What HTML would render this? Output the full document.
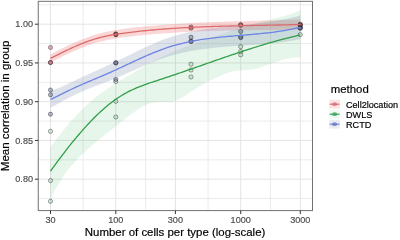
<!DOCTYPE html>
<html><head><meta charset="utf-8"><style>
html,body{margin:0;padding:0;background:#fff;width:400px;height:240px;overflow:hidden}
svg{display:block}
text{font-family:"Liberation Sans",Arial,sans-serif;stroke-width:0.18px;paint-order:stroke}
.tk{stroke:#4D4D4D} .ti,.lt,.ll{stroke:#000}
.tk{font-size:9.1px;fill:#4D4D4D}
.ti{font-size:11.4px;fill:#000}
.lt{font-size:11.4px;fill:#000}
.ll{font-size:9.1px;fill:#000}
svg{filter:blur(0.45px)}
</style></head><body>
<svg width="400" height="240" viewBox="0 0 400 240">
<rect x="0" y="0" width="400" height="240" fill="#fff"/>
<line x1="38.25" x2="312.5" y1="4.83" y2="4.83" stroke="#E6E6E6" stroke-width="0.8"/>
<line x1="38.25" x2="312.5" y1="43.58" y2="43.58" stroke="#E6E6E6" stroke-width="0.8"/>
<line x1="38.25" x2="312.5" y1="82.32" y2="82.32" stroke="#E6E6E6" stroke-width="0.8"/>
<line x1="38.25" x2="312.5" y1="121.08" y2="121.08" stroke="#E6E6E6" stroke-width="0.8"/>
<line x1="38.25" x2="312.5" y1="159.83" y2="159.83" stroke="#E6E6E6" stroke-width="0.8"/>
<line x1="38.25" x2="312.5" y1="198.57" y2="198.57" stroke="#E6E6E6" stroke-width="0.8"/>
<line y1="1.3" y2="210.6" x1="83.15" x2="83.15" stroke="#E6E6E6" stroke-width="0.8"/>
<line y1="1.3" y2="210.6" x1="145.60" x2="145.60" stroke="#E6E6E6" stroke-width="0.8"/>
<line y1="1.3" y2="210.6" x1="208.05" x2="208.05" stroke="#E6E6E6" stroke-width="0.8"/>
<line y1="1.3" y2="210.6" x1="270.50" x2="270.50" stroke="#E6E6E6" stroke-width="0.8"/>
<line x1="38.25" x2="312.5" y1="24.20" y2="24.20" stroke="#E4E4E4" stroke-width="1"/>
<line x1="38.25" x2="312.5" y1="62.95" y2="62.95" stroke="#E4E4E4" stroke-width="1"/>
<line x1="38.25" x2="312.5" y1="101.70" y2="101.70" stroke="#E4E4E4" stroke-width="1"/>
<line x1="38.25" x2="312.5" y1="140.45" y2="140.45" stroke="#E4E4E4" stroke-width="1"/>
<line x1="38.25" x2="312.5" y1="179.20" y2="179.20" stroke="#E4E4E4" stroke-width="1"/>
<line y1="1.3" y2="210.6" x1="50.50" x2="50.50" stroke="#E4E4E4" stroke-width="1"/>
<line y1="1.3" y2="210.6" x1="115.81" x2="115.81" stroke="#E4E4E4" stroke-width="1"/>
<line y1="1.3" y2="210.6" x1="175.40" x2="175.40" stroke="#E4E4E4" stroke-width="1"/>
<line y1="1.3" y2="210.6" x1="240.71" x2="240.71" stroke="#E4E4E4" stroke-width="1"/>
<line y1="1.3" y2="210.6" x1="300.30" x2="300.30" stroke="#E4E4E4" stroke-width="1"/>
<path d="M50.50,54.44 L52.50,53.38 L54.50,52.33 L56.50,51.29 L58.49,50.26 L60.49,49.24 L62.49,48.24 L64.49,47.25 L66.49,46.28 L68.49,45.32 L70.48,44.38 L72.48,43.46 L74.48,42.56 L76.48,41.69 L78.48,40.83 L80.48,40.00 L82.47,39.20 L84.47,38.42 L86.47,37.67 L88.47,36.94 L90.47,36.25 L92.47,35.59 L94.46,34.96 L96.46,34.37 L98.46,33.80 L100.46,33.27 L102.46,32.77 L104.46,32.30 L106.46,31.86 L108.45,31.44 L110.45,31.05 L112.45,30.68 L114.45,30.33 L116.45,30.00 L118.45,29.69 L120.44,29.39 L122.44,29.10 L124.44,28.83 L126.44,28.57 L128.44,28.32 L130.44,28.07 L132.43,27.83 L134.43,27.60 L136.43,27.37 L138.43,27.15 L140.43,26.93 L142.43,26.72 L144.42,26.52 L146.42,26.32 L148.42,26.12 L150.42,25.93 L152.42,25.75 L154.42,25.57 L156.42,25.39 L158.41,25.22 L160.41,25.06 L162.41,24.90 L164.41,24.74 L166.41,24.59 L168.41,24.44 L170.40,24.30 L172.40,24.16 L174.40,24.02 L176.40,23.89 L178.40,23.76 L180.40,23.64 L182.39,23.52 L184.39,23.40 L186.39,23.29 L188.39,23.18 L190.39,23.07 L192.39,22.97 L194.38,22.87 L196.38,22.77 L198.38,22.67 L200.38,22.58 L202.38,22.49 L204.38,22.41 L206.38,22.32 L208.37,22.24 L210.37,22.16 L212.37,22.08 L214.37,22.01 L216.37,21.94 L218.37,21.86 L220.36,21.80 L222.36,21.73 L224.36,21.66 L226.36,21.60 L228.36,21.53 L230.36,21.47 L232.35,21.41 L234.35,21.35 L236.35,21.30 L238.35,21.24 L240.35,21.18 L242.35,21.13 L244.34,21.07 L246.34,21.02 L248.34,20.97 L250.34,20.91 L252.34,20.86 L254.34,20.81 L256.34,20.76 L258.33,20.70 L260.33,20.65 L262.33,20.60 L264.33,20.55 L266.33,20.50 L268.33,20.44 L270.32,20.39 L272.32,20.33 L274.32,20.28 L276.32,20.22 L278.32,20.17 L280.32,20.11 L282.31,20.05 L284.31,19.99 L286.31,19.93 L288.31,19.87 L290.31,19.81 L292.31,19.74 L294.30,19.67 L296.30,19.60 L298.30,19.53 L300.30,19.46 L300.30,29.60 L298.30,29.63 L296.30,29.66 L294.30,29.68 L292.31,29.71 L290.31,29.73 L288.31,29.75 L286.31,29.78 L284.31,29.80 L282.31,29.82 L280.32,29.84 L278.32,29.86 L276.32,29.88 L274.32,29.90 L272.32,29.92 L270.32,29.94 L268.33,29.96 L266.33,29.98 L264.33,30.01 L262.33,30.03 L260.33,30.05 L258.33,30.07 L256.34,30.10 L254.34,30.12 L252.34,30.14 L250.34,30.17 L248.34,30.20 L246.34,30.22 L244.34,30.25 L242.35,30.28 L240.35,30.31 L238.35,30.35 L236.35,30.38 L234.35,30.42 L232.35,30.45 L230.36,30.49 L228.36,30.53 L226.36,30.58 L224.36,30.62 L222.36,30.67 L220.36,30.72 L218.37,30.77 L216.37,30.82 L214.37,30.88 L212.37,30.94 L210.37,31.00 L208.37,31.06 L206.38,31.13 L204.38,31.20 L202.38,31.27 L200.38,31.34 L198.38,31.42 L196.38,31.50 L194.38,31.59 L192.39,31.67 L190.39,31.77 L188.39,31.86 L186.39,31.96 L184.39,32.06 L182.39,32.17 L180.40,32.27 L178.40,32.39 L176.40,32.51 L174.40,32.63 L172.40,32.75 L170.40,32.88 L168.41,33.02 L166.41,33.15 L164.41,33.30 L162.41,33.44 L160.41,33.60 L158.41,33.75 L156.42,33.91 L154.42,34.08 L152.42,34.25 L150.42,34.43 L148.42,34.61 L146.42,34.80 L144.42,34.99 L142.43,35.19 L140.43,35.39 L138.43,35.60 L136.43,35.81 L134.43,36.03 L132.43,36.26 L130.44,36.49 L128.44,36.73 L126.44,36.98 L124.44,37.23 L122.44,37.50 L120.44,37.77 L118.45,38.07 L116.45,38.37 L114.45,38.70 L112.45,39.05 L110.45,39.41 L108.45,39.81 L106.46,40.22 L104.46,40.66 L102.46,41.13 L100.46,41.64 L98.46,42.17 L96.46,42.74 L94.46,43.34 L92.47,43.97 L90.47,44.64 L88.47,45.34 L86.47,46.07 L84.47,46.83 L82.47,47.62 L80.48,48.43 L78.48,49.26 L76.48,50.11 L74.48,50.98 L72.48,51.87 L70.48,52.78 L68.49,53.70 L66.49,54.64 L64.49,55.58 L62.49,56.54 L60.49,57.50 L58.49,58.47 L56.50,59.44 L54.50,60.42 L52.50,61.39 L50.50,62.37Z" fill="#F06060" fill-opacity="0.26"/>
<path d="M50.50,147.25 L52.50,144.48 L54.50,141.77 L56.50,139.10 L58.49,136.48 L60.49,133.92 L62.49,131.40 L64.49,128.94 L66.49,126.53 L68.49,124.17 L70.48,121.86 L72.48,119.60 L74.48,117.40 L76.48,115.25 L78.48,113.15 L80.48,111.11 L82.47,109.13 L84.47,107.19 L86.47,105.32 L88.47,103.49 L90.47,101.73 L92.47,100.02 L94.46,98.36 L96.46,96.75 L98.46,95.19 L100.46,93.67 L102.46,92.20 L104.46,90.76 L106.46,89.36 L108.45,88.00 L110.45,86.66 L112.45,85.35 L114.45,84.07 L116.45,82.81 L118.45,81.57 L120.44,80.35 L122.44,79.14 L124.44,77.94 L126.44,76.75 L128.44,75.56 L130.44,74.38 L132.43,73.20 L134.43,72.03 L136.43,70.85 L138.43,69.69 L140.43,68.53 L142.43,67.38 L144.42,66.24 L146.42,65.11 L148.42,63.99 L150.42,62.89 L152.42,61.81 L154.42,60.74 L156.42,59.70 L158.41,58.67 L160.41,57.67 L162.41,56.69 L164.41,55.74 L166.41,54.81 L168.41,53.90 L170.40,53.02 L172.40,52.16 L174.40,51.32 L176.40,50.49 L178.40,49.69 L180.40,48.89 L182.39,48.11 L184.39,47.35 L186.39,46.59 L188.39,45.85 L190.39,45.11 L192.39,44.38 L194.38,43.65 L196.38,42.93 L198.38,42.21 L200.38,41.49 L202.38,40.78 L204.38,40.07 L206.38,39.36 L208.37,38.65 L210.37,37.95 L212.37,37.25 L214.37,36.56 L216.37,35.87 L218.37,35.19 L220.36,34.50 L222.36,33.83 L224.36,33.16 L226.36,32.49 L228.36,31.83 L230.36,31.17 L232.35,30.52 L234.35,29.88 L236.35,29.24 L238.35,28.61 L240.35,27.98 L242.35,27.36 L244.34,26.75 L246.34,26.15 L248.34,25.55 L250.34,24.96 L252.34,24.38 L254.34,23.81 L256.34,23.24 L258.33,22.68 L260.33,22.13 L262.33,21.59 L264.33,21.06 L266.33,20.54 L268.33,20.03 L270.32,19.52 L272.32,19.03 L274.32,18.54 L276.32,18.05 L278.32,17.55 L280.32,17.04 L282.31,16.51 L284.31,15.96 L286.31,15.39 L288.31,14.78 L290.31,14.14 L292.31,13.46 L294.30,12.73 L296.30,11.94 L298.30,11.10 L300.30,10.20 L300.30,57.17 L298.30,57.22 L296.30,57.35 L294.30,57.55 L292.31,57.81 L290.31,58.13 L288.31,58.52 L286.31,58.96 L284.31,59.44 L282.31,59.98 L280.32,60.55 L278.32,61.16 L276.32,61.80 L274.32,62.47 L272.32,63.16 L270.32,63.88 L268.33,64.61 L266.33,65.35 L264.33,66.08 L262.33,66.80 L260.33,67.47 L258.33,68.09 L256.34,68.63 L254.34,69.07 L252.34,69.41 L250.34,69.67 L248.34,69.87 L246.34,70.02 L244.34,70.15 L242.35,70.27 L240.35,70.40 L238.35,70.57 L236.35,70.80 L234.35,71.09 L232.35,71.48 L230.36,71.99 L228.36,72.62 L226.36,73.36 L224.36,74.18 L222.36,75.07 L220.36,75.98 L218.37,76.89 L216.37,77.81 L214.37,78.73 L212.37,79.66 L210.37,80.61 L208.37,81.58 L206.38,82.57 L204.38,83.60 L202.38,84.66 L200.38,85.77 L198.38,86.92 L196.38,88.13 L194.38,89.40 L192.39,90.72 L190.39,92.09 L188.39,93.47 L186.39,94.83 L184.39,96.14 L182.39,97.37 L180.40,98.48 L178.40,99.45 L176.40,100.25 L174.40,100.84 L172.40,101.24 L170.40,101.49 L168.41,101.63 L166.41,101.69 L164.41,101.69 L162.41,101.69 L160.41,101.70 L158.41,101.78 L156.42,101.94 L154.42,102.23 L152.42,102.66 L150.42,103.23 L148.42,103.94 L146.42,104.76 L144.42,105.70 L142.43,106.74 L140.43,107.88 L138.43,109.10 L136.43,110.41 L134.43,111.78 L132.43,113.21 L130.44,114.70 L128.44,116.23 L126.44,117.79 L124.44,119.39 L122.44,121.00 L120.44,122.61 L118.45,124.23 L116.45,125.84 L114.45,127.44 L112.45,129.01 L110.45,130.58 L108.45,132.13 L106.46,133.69 L104.46,135.24 L102.46,136.81 L100.46,138.39 L98.46,139.99 L96.46,141.61 L94.46,143.26 L92.47,144.95 L90.47,146.68 L88.47,148.45 L86.47,150.27 L84.47,152.14 L82.47,154.07 L80.48,156.06 L78.48,158.11 L76.48,160.22 L74.48,162.40 L72.48,164.65 L70.48,166.97 L68.49,169.37 L66.49,171.85 L64.49,174.54 L62.49,177.54 L60.49,180.95 L58.49,184.46 L56.50,187.56 L54.50,190.24 L52.50,195.17 L50.50,205.92Z" fill="#20B040" fill-opacity="0.11"/>
<path d="M50.50,90.99 L52.50,90.33 L54.50,89.62 L56.50,88.86 L58.49,88.06 L60.49,87.22 L62.49,86.36 L64.49,85.46 L66.49,84.54 L68.49,83.61 L70.48,82.66 L72.48,81.71 L74.48,80.75 L76.48,79.80 L78.48,78.85 L80.48,77.92 L82.47,76.99 L84.47,76.08 L86.47,75.17 L88.47,74.27 L90.47,73.37 L92.47,72.47 L94.46,71.57 L96.46,70.68 L98.46,69.78 L100.46,68.87 L102.46,67.96 L104.46,67.05 L106.46,66.12 L108.45,65.18 L110.45,64.24 L112.45,63.28 L114.45,62.32 L116.45,61.35 L118.45,60.37 L120.44,59.39 L122.44,58.40 L124.44,57.42 L126.44,56.43 L128.44,55.44 L130.44,54.46 L132.43,53.48 L134.43,52.50 L136.43,51.53 L138.43,50.57 L140.43,49.61 L142.43,48.67 L144.42,47.73 L146.42,46.81 L148.42,45.90 L150.42,45.01 L152.42,44.14 L154.42,43.28 L156.42,42.44 L158.41,41.62 L160.41,40.82 L162.41,40.05 L164.41,39.30 L166.41,38.57 L168.41,37.88 L170.40,37.21 L172.40,36.56 L174.40,35.95 L176.40,35.35 L178.40,34.79 L180.40,34.24 L182.39,33.72 L184.39,33.23 L186.39,32.75 L188.39,32.29 L190.39,31.86 L192.39,31.44 L194.38,31.04 L196.38,30.66 L198.38,30.30 L200.38,29.95 L202.38,29.61 L204.38,29.29 L206.38,28.99 L208.37,28.70 L210.37,28.41 L212.37,28.14 L214.37,27.88 L216.37,27.63 L218.37,27.39 L220.36,27.16 L222.36,26.94 L224.36,26.72 L226.36,26.50 L228.36,26.29 L230.36,26.09 L232.35,25.89 L234.35,25.69 L236.35,25.49 L238.35,25.29 L240.35,25.10 L242.35,24.90 L244.34,24.70 L246.34,24.50 L248.34,24.30 L250.34,24.09 L252.34,23.88 L254.34,23.66 L256.34,23.44 L258.33,23.21 L260.33,22.97 L262.33,22.72 L264.33,22.47 L266.33,22.20 L268.33,21.92 L270.32,21.64 L272.32,21.33 L274.32,21.02 L276.32,20.69 L278.32,20.35 L280.32,19.99 L282.31,19.61 L284.31,19.22 L286.31,18.81 L288.31,18.38 L290.31,17.93 L292.31,17.46 L294.30,16.97 L296.30,16.46 L298.30,15.92 L300.30,15.37 L300.30,39.14 L298.30,39.55 L296.30,39.94 L294.30,40.30 L292.31,40.65 L290.31,40.99 L288.31,41.30 L286.31,41.60 L284.31,41.88 L282.31,42.15 L280.32,42.41 L278.32,42.65 L276.32,42.88 L274.32,43.10 L272.32,43.31 L270.32,43.50 L268.33,43.69 L266.33,43.87 L264.33,44.04 L262.33,44.20 L260.33,44.36 L258.33,44.51 L256.34,44.65 L254.34,44.79 L252.34,44.93 L250.34,45.06 L248.34,45.19 L246.34,45.32 L244.34,45.45 L242.35,45.58 L240.35,45.70 L238.35,45.83 L236.35,45.96 L234.35,46.10 L232.35,46.23 L230.36,46.37 L228.36,46.52 L226.36,46.67 L224.36,46.82 L222.36,46.99 L220.36,47.16 L218.37,47.34 L216.37,47.53 L214.37,47.72 L212.37,47.93 L210.37,48.15 L208.37,48.38 L206.38,48.63 L204.38,48.88 L202.38,49.15 L200.38,49.44 L198.38,49.74 L196.38,50.05 L194.38,50.39 L192.39,50.74 L190.39,51.11 L188.39,51.49 L186.39,51.90 L184.39,52.33 L182.39,52.78 L180.40,53.25 L178.40,53.74 L176.40,54.26 L174.40,54.80 L172.40,55.36 L170.40,55.95 L168.41,56.57 L166.41,57.21 L164.41,57.88 L162.41,58.57 L160.41,59.29 L158.41,60.02 L156.42,60.78 L154.42,61.56 L152.42,62.35 L150.42,63.16 L148.42,63.98 L146.42,64.81 L144.42,65.66 L142.43,66.52 L140.43,67.38 L138.43,68.25 L136.43,69.13 L134.43,70.01 L132.43,70.90 L130.44,71.78 L128.44,72.67 L126.44,73.55 L124.44,74.43 L122.44,75.31 L120.44,76.18 L118.45,77.04 L116.45,77.89 L114.45,78.74 L112.45,79.57 L110.45,80.39 L108.45,81.19 L106.46,81.98 L104.46,82.76 L102.46,83.52 L100.46,84.28 L98.46,85.03 L96.46,85.78 L94.46,86.54 L92.47,87.30 L90.47,88.06 L88.47,88.85 L86.47,89.64 L84.47,90.46 L82.47,91.29 L80.48,92.16 L78.48,93.05 L76.48,93.97 L74.48,94.92 L72.48,95.90 L70.48,96.91 L68.49,97.94 L66.49,99.00 L64.49,100.07 L62.49,101.16 L60.49,102.27 L58.49,103.39 L56.50,104.52 L54.50,105.67 L52.50,106.82 L50.50,107.97Z" fill="#7080A8" fill-opacity="0.23"/>
<circle cx="50.50" cy="47.50" r="2.1" fill="#C04858" fill-opacity="0.42" stroke="#000" stroke-opacity="0.42" stroke-width="0.85"/>
<circle cx="50.50" cy="62.50" r="2.1" fill="#C04858" fill-opacity="0.42" stroke="#000" stroke-opacity="0.42" stroke-width="0.85"/>
<circle cx="50.50" cy="62.50" r="2.1" fill="#C04858" fill-opacity="0.42" stroke="#000" stroke-opacity="0.42" stroke-width="0.85"/>
<circle cx="115.81" cy="33.80" r="2.1" fill="#C04858" fill-opacity="0.42" stroke="#000" stroke-opacity="0.42" stroke-width="0.85"/>
<circle cx="115.81" cy="34.60" r="2.1" fill="#C04858" fill-opacity="0.42" stroke="#000" stroke-opacity="0.42" stroke-width="0.85"/>
<circle cx="115.81" cy="34.60" r="2.1" fill="#C04858" fill-opacity="0.42" stroke="#000" stroke-opacity="0.42" stroke-width="0.85"/>
<circle cx="191.00" cy="27.00" r="2.1" fill="#C04858" fill-opacity="0.42" stroke="#000" stroke-opacity="0.42" stroke-width="0.85"/>
<circle cx="191.00" cy="28.20" r="2.1" fill="#C04858" fill-opacity="0.42" stroke="#000" stroke-opacity="0.42" stroke-width="0.85"/>
<circle cx="240.71" cy="24.60" r="2.1" fill="#C04858" fill-opacity="0.42" stroke="#000" stroke-opacity="0.42" stroke-width="0.85"/>
<circle cx="240.71" cy="25.40" r="2.1" fill="#C04858" fill-opacity="0.42" stroke="#000" stroke-opacity="0.42" stroke-width="0.85"/>
<circle cx="300.30" cy="24.20" r="2.1" fill="#C04858" fill-opacity="0.42" stroke="#000" stroke-opacity="0.42" stroke-width="0.85"/>
<circle cx="300.30" cy="24.80" r="2.1" fill="#C04858" fill-opacity="0.42" stroke="#000" stroke-opacity="0.42" stroke-width="0.85"/>
<circle cx="300.30" cy="25.30" r="2.1" fill="#C04858" fill-opacity="0.42" stroke="#000" stroke-opacity="0.42" stroke-width="0.85"/>
<circle cx="50.50" cy="131.30" r="2.1" fill="#A0D0B0" fill-opacity="0.42" stroke="#000" stroke-opacity="0.42" stroke-width="0.85"/>
<circle cx="50.50" cy="180.60" r="2.1" fill="#A0D0B0" fill-opacity="0.42" stroke="#000" stroke-opacity="0.42" stroke-width="0.85"/>
<circle cx="50.50" cy="201.30" r="2.1" fill="#A0D0B0" fill-opacity="0.42" stroke="#000" stroke-opacity="0.42" stroke-width="0.85"/>
<circle cx="115.81" cy="81.50" r="2.1" fill="#A0D0B0" fill-opacity="0.42" stroke="#000" stroke-opacity="0.42" stroke-width="0.85"/>
<circle cx="115.81" cy="101.30" r="2.1" fill="#A0D0B0" fill-opacity="0.42" stroke="#000" stroke-opacity="0.42" stroke-width="0.85"/>
<circle cx="115.81" cy="117.00" r="2.1" fill="#A0D0B0" fill-opacity="0.42" stroke="#000" stroke-opacity="0.42" stroke-width="0.85"/>
<circle cx="191.00" cy="64.20" r="2.1" fill="#A0D0B0" fill-opacity="0.42" stroke="#000" stroke-opacity="0.42" stroke-width="0.85"/>
<circle cx="191.00" cy="70.00" r="2.1" fill="#A0D0B0" fill-opacity="0.42" stroke="#000" stroke-opacity="0.42" stroke-width="0.85"/>
<circle cx="191.00" cy="77.00" r="2.1" fill="#A0D0B0" fill-opacity="0.42" stroke="#000" stroke-opacity="0.42" stroke-width="0.85"/>
<circle cx="240.71" cy="46.60" r="2.1" fill="#A0D0B0" fill-opacity="0.42" stroke="#000" stroke-opacity="0.42" stroke-width="0.85"/>
<circle cx="240.71" cy="51.50" r="2.1" fill="#A0D0B0" fill-opacity="0.42" stroke="#000" stroke-opacity="0.42" stroke-width="0.85"/>
<circle cx="240.71" cy="54.80" r="2.1" fill="#A0D0B0" fill-opacity="0.42" stroke="#000" stroke-opacity="0.42" stroke-width="0.85"/>
<circle cx="300.30" cy="34.60" r="2.1" fill="#A0D0B0" fill-opacity="0.42" stroke="#000" stroke-opacity="0.42" stroke-width="0.85"/>
<circle cx="50.50" cy="90.00" r="2.1" fill="#525A88" fill-opacity="0.42" stroke="#000" stroke-opacity="0.42" stroke-width="0.85"/>
<circle cx="50.50" cy="94.80" r="2.1" fill="#525A88" fill-opacity="0.42" stroke="#000" stroke-opacity="0.42" stroke-width="0.85"/>
<circle cx="50.50" cy="114.20" r="2.1" fill="#525A88" fill-opacity="0.42" stroke="#000" stroke-opacity="0.42" stroke-width="0.85"/>
<circle cx="115.81" cy="62.80" r="2.1" fill="#525A88" fill-opacity="0.42" stroke="#000" stroke-opacity="0.42" stroke-width="0.85"/>
<circle cx="115.81" cy="62.80" r="2.1" fill="#525A88" fill-opacity="0.42" stroke="#000" stroke-opacity="0.42" stroke-width="0.85"/>
<circle cx="115.81" cy="79.50" r="2.1" fill="#525A88" fill-opacity="0.42" stroke="#000" stroke-opacity="0.42" stroke-width="0.85"/>
<circle cx="191.00" cy="37.20" r="2.1" fill="#525A88" fill-opacity="0.42" stroke="#000" stroke-opacity="0.42" stroke-width="0.85"/>
<circle cx="191.00" cy="41.20" r="2.1" fill="#525A88" fill-opacity="0.42" stroke="#000" stroke-opacity="0.42" stroke-width="0.85"/>
<circle cx="191.00" cy="41.60" r="2.1" fill="#525A88" fill-opacity="0.42" stroke="#000" stroke-opacity="0.42" stroke-width="0.85"/>
<circle cx="240.71" cy="31.50" r="2.1" fill="#525A88" fill-opacity="0.42" stroke="#000" stroke-opacity="0.42" stroke-width="0.85"/>
<circle cx="240.71" cy="37.00" r="2.1" fill="#525A88" fill-opacity="0.42" stroke="#000" stroke-opacity="0.42" stroke-width="0.85"/>
<circle cx="240.71" cy="37.60" r="2.1" fill="#525A88" fill-opacity="0.42" stroke="#000" stroke-opacity="0.42" stroke-width="0.85"/>
<circle cx="300.30" cy="27.30" r="2.1" fill="#525A88" fill-opacity="0.42" stroke="#000" stroke-opacity="0.42" stroke-width="0.85"/>
<circle cx="300.30" cy="27.90" r="2.1" fill="#525A88" fill-opacity="0.42" stroke="#000" stroke-opacity="0.42" stroke-width="0.85"/>
<circle cx="300.30" cy="28.40" r="2.1" fill="#525A88" fill-opacity="0.42" stroke="#000" stroke-opacity="0.42" stroke-width="0.85"/>
<path d="M50.50,58.43 L52.50,57.40 L54.50,56.38 L56.50,55.36 L58.49,54.35 L60.49,53.35 L62.49,52.36 L64.49,51.39 L66.49,50.43 L68.49,49.48 L70.48,48.55 L72.48,47.64 L74.48,46.75 L76.48,45.88 L78.48,45.03 L80.48,44.20 L82.47,43.40 L84.47,42.62 L86.47,41.87 L88.47,41.15 L90.47,40.45 L92.47,39.79 L94.46,39.16 L96.46,38.57 L98.46,38.00 L100.46,37.47 L102.46,36.97 L104.46,36.50 L106.46,36.06 L108.45,35.64 L110.45,35.25 L112.45,34.88 L114.45,34.53 L116.45,34.20 L118.45,33.89 L120.44,33.59 L122.44,33.31 L124.44,33.04 L126.44,32.78 L128.44,32.53 L130.44,32.28 L132.43,32.04 L134.43,31.81 L136.43,31.59 L138.43,31.37 L140.43,31.15 L142.43,30.95 L144.42,30.74 L146.42,30.55 L148.42,30.35 L150.42,30.17 L152.42,29.99 L154.42,29.81 L156.42,29.64 L158.41,29.47 L160.41,29.31 L162.41,29.16 L164.41,29.00 L166.41,28.86 L168.41,28.71 L170.40,28.57 L172.40,28.44 L174.40,28.31 L176.40,28.18 L178.40,28.06 L180.40,27.94 L182.39,27.83 L184.39,27.72 L186.39,27.61 L188.39,27.51 L190.39,27.41 L192.39,27.31 L194.38,27.22 L196.38,27.13 L198.38,27.04 L200.38,26.96 L202.38,26.87 L204.38,26.80 L206.38,26.72 L208.37,26.65 L210.37,26.58 L212.37,26.51 L214.37,26.44 L216.37,26.38 L218.37,26.32 L220.36,26.26 L222.36,26.20 L224.36,26.14 L226.36,26.09 L228.36,26.04 L230.36,25.99 L232.35,25.94 L234.35,25.89 L236.35,25.85 L238.35,25.80 L240.35,25.76 L242.35,25.71 L244.34,25.67 L246.34,25.63 L248.34,25.59 L250.34,25.55 L252.34,25.51 L254.34,25.47 L256.34,25.44 L258.33,25.40 L260.33,25.36 L262.33,25.32 L264.33,25.29 L266.33,25.25 L268.33,25.21 L270.32,25.17 L272.32,25.14 L274.32,25.10 L276.32,25.06 L278.32,25.02 L280.32,24.98 L282.31,24.94 L284.31,24.90 L286.31,24.86 L288.31,24.81 L290.31,24.77 L292.31,24.72 L294.30,24.67 L296.30,24.62 L298.30,24.57 L300.30,24.52" fill="none" stroke="#DC6C6C" stroke-width="1.3"/>
<path d="M50.50,171.08 L52.50,168.32 L54.50,165.58 L56.50,162.87 L58.49,160.18 L60.49,157.52 L62.49,154.88 L64.49,152.28 L66.49,149.70 L68.49,147.16 L70.48,144.65 L72.48,142.17 L74.48,139.73 L76.48,137.32 L78.48,134.96 L80.48,132.63 L82.47,130.34 L84.47,128.09 L86.47,125.89 L88.47,123.73 L90.47,121.61 L92.47,119.54 L94.46,117.52 L96.46,115.55 L98.46,113.63 L100.46,111.76 L102.46,109.94 L104.46,108.18 L106.46,106.47 L108.45,104.82 L110.45,103.23 L112.45,101.70 L114.45,100.23 L116.45,98.82 L118.45,97.47 L120.44,96.19 L122.44,94.97 L124.44,93.82 L126.44,92.72 L128.44,91.67 L130.44,90.68 L132.43,89.73 L134.43,88.83 L136.43,87.96 L138.43,87.14 L140.43,86.34 L142.43,85.58 L144.42,84.84 L146.42,84.13 L148.42,83.43 L150.42,82.75 L152.42,82.09 L154.42,81.43 L156.42,80.78 L158.41,80.13 L160.41,79.47 L162.41,78.82 L164.41,78.16 L166.41,77.49 L168.41,76.82 L170.40,76.15 L172.40,75.47 L174.40,74.80 L176.40,74.11 L178.40,73.43 L180.40,72.74 L182.39,72.05 L184.39,71.36 L186.39,70.67 L188.39,69.98 L190.39,69.28 L192.39,68.58 L194.38,67.89 L196.38,67.19 L198.38,66.49 L200.38,65.79 L202.38,65.09 L204.38,64.39 L206.38,63.69 L208.37,62.99 L210.37,62.29 L212.37,61.59 L214.37,60.89 L216.37,60.20 L218.37,59.50 L220.36,58.81 L222.36,58.12 L224.36,57.43 L226.36,56.74 L228.36,56.06 L230.36,55.38 L232.35,54.70 L234.35,54.03 L236.35,53.35 L238.35,52.69 L240.35,52.02 L242.35,51.36 L244.34,50.71 L246.34,50.05 L248.34,49.41 L250.34,48.77 L252.34,48.13 L254.34,47.50 L256.34,46.87 L258.33,46.25 L260.33,45.63 L262.33,45.03 L264.33,44.42 L266.33,43.83 L268.33,43.24 L270.32,42.66 L272.32,42.08 L274.32,41.51 L276.32,40.95 L278.32,40.40 L280.32,39.85 L282.31,39.32 L284.31,38.79 L286.31,38.27 L288.31,37.76 L290.31,37.26 L292.31,36.77 L294.30,36.28 L296.30,35.81 L298.30,35.35 L300.30,34.89" fill="none" stroke="#2E9E48" stroke-width="1.3"/>
<path d="M50.50,99.54 L52.50,98.55 L54.50,97.55 L56.50,96.56 L58.49,95.57 L60.49,94.58 L62.49,93.59 L64.49,92.61 L66.49,91.64 L68.49,90.68 L70.48,89.72 L72.48,88.78 L74.48,87.85 L76.48,86.93 L78.48,86.03 L80.48,85.14 L82.47,84.26 L84.47,83.39 L86.47,82.53 L88.47,81.68 L90.47,80.84 L92.47,80.00 L94.46,79.16 L96.46,78.32 L98.46,77.48 L100.46,76.64 L102.46,75.79 L104.46,74.93 L106.46,74.06 L108.45,73.19 L110.45,72.30 L112.45,71.40 L114.45,70.49 L116.45,69.58 L118.45,68.65 L120.44,67.73 L122.44,66.79 L124.44,65.86 L126.44,64.92 L128.44,63.99 L130.44,63.05 L132.43,62.12 L134.43,61.19 L136.43,60.27 L138.43,59.35 L140.43,58.44 L142.43,57.54 L144.42,56.65 L146.42,55.77 L148.42,54.90 L150.42,54.05 L152.42,53.22 L154.42,52.40 L156.42,51.59 L158.41,50.81 L160.41,50.05 L162.41,49.31 L164.41,48.59 L166.41,47.90 L168.41,47.24 L170.40,46.60 L172.40,45.99 L174.40,45.40 L176.40,44.83 L178.40,44.30 L180.40,43.78 L182.39,43.28 L184.39,42.81 L186.39,42.36 L188.39,41.93 L190.39,41.52 L192.39,41.13 L194.38,40.75 L196.38,40.39 L198.38,40.05 L200.38,39.73 L202.38,39.42 L204.38,39.12 L206.38,38.84 L208.37,38.57 L210.37,38.31 L212.37,38.06 L214.37,37.83 L216.37,37.60 L218.37,37.38 L220.36,37.18 L222.36,36.97 L224.36,36.78 L226.36,36.59 L228.36,36.41 L230.36,36.23 L232.35,36.06 L234.35,35.89 L236.35,35.72 L238.35,35.56 L240.35,35.39 L242.35,35.23 L244.34,35.06 L246.34,34.89 L248.34,34.73 L250.34,34.56 L252.34,34.38 L254.34,34.20 L256.34,34.02 L258.33,33.83 L260.33,33.64 L262.33,33.43 L264.33,33.22 L266.33,33.01 L268.33,32.78 L270.32,32.54 L272.32,32.29 L274.32,32.03 L276.32,31.76 L278.32,31.47 L280.32,31.18 L282.31,30.86 L284.31,30.53 L286.31,30.19 L288.31,29.83 L290.31,29.45 L292.31,29.06 L294.30,28.64 L296.30,28.21 L298.30,27.75 L300.30,27.27" fill="none" stroke="#6D84E4" stroke-width="1.3"/>
<rect x="38.25" y="1.3" width="274.25" height="209.29999999999998" fill="none" stroke="#6a6a6a" stroke-width="0.95"/>
<line x1="50.50" x2="50.50" y1="210.6" y2="214.0" stroke="#333" stroke-width="1.0"/>
<line x1="115.81" x2="115.81" y1="210.6" y2="214.0" stroke="#333" stroke-width="1.0"/>
<line x1="175.40" x2="175.40" y1="210.6" y2="214.0" stroke="#333" stroke-width="1.0"/>
<line x1="240.71" x2="240.71" y1="210.6" y2="214.0" stroke="#333" stroke-width="1.0"/>
<line x1="300.30" x2="300.30" y1="210.6" y2="214.0" stroke="#333" stroke-width="1.0"/>
<line y1="24.20" y2="24.20" x1="34.95" x2="38.25" stroke="#333" stroke-width="1.0"/>
<line y1="62.95" y2="62.95" x1="34.95" x2="38.25" stroke="#333" stroke-width="1.0"/>
<line y1="101.70" y2="101.70" x1="34.95" x2="38.25" stroke="#333" stroke-width="1.0"/>
<line y1="140.45" y2="140.45" x1="34.95" x2="38.25" stroke="#333" stroke-width="1.0"/>
<line y1="179.20" y2="179.20" x1="34.95" x2="38.25" stroke="#333" stroke-width="1.0"/>
<text x="33" y="27.30" text-anchor="end" class="tk">1.00</text>
<text x="33" y="66.05" text-anchor="end" class="tk">0.95</text>
<text x="33" y="104.80" text-anchor="end" class="tk">0.90</text>
<text x="33" y="143.55" text-anchor="end" class="tk">0.85</text>
<text x="33" y="182.30" text-anchor="end" class="tk">0.80</text>
<text x="50.50" y="223" text-anchor="middle" class="tk">30</text>
<text x="115.81" y="223" text-anchor="middle" class="tk">100</text>
<text x="175.40" y="223" text-anchor="middle" class="tk">300</text>
<text x="240.71" y="223" text-anchor="middle" class="tk">1000</text>
<text x="300.30" y="223" text-anchor="middle" class="tk">3000</text>
<text x="175.1" y="236.2" text-anchor="middle" class="ti" textLength="180.5" lengthAdjust="spacingAndGlyphs">Number of cells per type (log-scale)</text>
<text transform="translate(9.2,105.9) rotate(-90)" text-anchor="middle" class="ti" textLength="130.5" lengthAdjust="spacingAndGlyphs">Mean correlation in group</text>
<text x="330.8" y="92.6" class="lt">method</text>
<rect x="329.3" y="99.80" width="10.6" height="8.8" fill="#F06060" fill-opacity="0.182"/>
<line x1="329.6" x2="339.6" y1="104.20" y2="104.20" stroke="#DC6C6C" stroke-width="1.1"/>
<ellipse cx="334.6" cy="104.20" rx="2.6" ry="1.9" fill="#D07080" fill-opacity="0.8"/>
<text x="346" y="107.60" class="ll">Cell2location</text>
<rect x="329.3" y="109.80" width="10.6" height="8.8" fill="#20B040" fill-opacity="0.077"/>
<line x1="329.6" x2="339.6" y1="114.20" y2="114.20" stroke="#2E9E48" stroke-width="1.1"/>
<ellipse cx="334.6" cy="114.20" rx="2.6" ry="1.9" fill="#40A060" fill-opacity="0.8"/>
<text x="346" y="117.60" class="ll">DWLS</text>
<rect x="329.3" y="119.80" width="10.6" height="8.8" fill="#7080A8" fill-opacity="0.161"/>
<line x1="329.6" x2="339.6" y1="124.20" y2="124.20" stroke="#6D84E4" stroke-width="1.1"/>
<ellipse cx="334.6" cy="124.20" rx="2.6" ry="1.9" fill="#6878C0" fill-opacity="0.8"/>
<text x="346" y="127.60" class="ll">RCTD</text>
</svg>
</body></html>
